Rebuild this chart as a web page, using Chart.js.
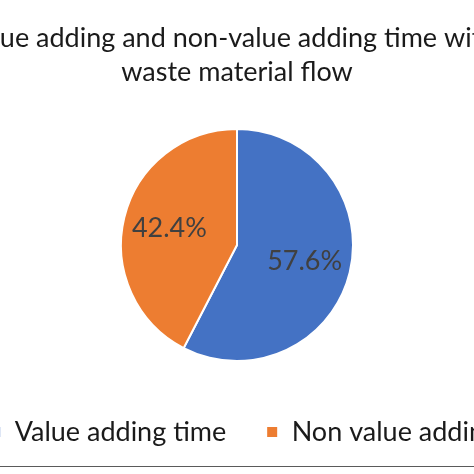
<!DOCTYPE html>
<html><head><meta charset="utf-8">
<script src="https://cdn.jsdelivr.net/npm/chart.js@4/dist/chart.umd.min.js"></script>
<style>
html,body{margin:0;padding:0;width:474px;height:474px;overflow:hidden;background:#fff;position:relative}
#c{position:absolute;top:0}
#rule{position:absolute;left:0;top:466px;width:474px;height:1px;background:#5a5a5a}
</style></head><body>
<canvas id="c"></canvas><div id="rule"></div>
<script>
const titleLines = ['Value adding and non-value adding time with  ', 'waste material flow'];
const categories = ['Value adding time', 'Non value adding time'];
const shares = [57.6, 42.4];
const sliceColors = ['#4472C4', '#ED7D31'];

const FONT = 'Lato';
const FS = 27;
const TITLE_FS = 27;
const BOX = 12;
const PAGE_H = 474;
const CENTER_X = 237;
const BOX1_X = -11, BOX2_X = 266;

// measure legend texts to lay the (clipped) legend out like the reference
const mctx = document.createElement('canvas').getContext('2d');
mctx.font = FS + 'px ' + FONT;
const item1 = BOX + FS / 2 + mctx.measureText(categories[0]).width;
const item2 = BOX + FS / 2 + mctx.measureText(categories[1]).width;
const GAP = BOX2_X - BOX1_X - item1;
const LW = item1 + item2 + 2 * GAP;
const W = Math.round(2 * (LW + BOX1_X - CENTER_X));
const L = CENTER_X - W / 2;

const canvas = document.getElementById('c');
canvas.width = W; canvas.height = PAGE_H;
canvas.style.width = W + 'px'; canvas.style.height = PAGE_H + 'px';
canvas.style.left = L + 'px';

const sliceLabels = {
  id: 'sliceLabels',
  afterDatasetsDraw(chart) {
    const ctx = chart.ctx;
    const meta = chart.getDatasetMeta(0);
    const data = chart.data.datasets[0].data;
    const total = data.reduce((a, b) => a + b, 0);
    ctx.save();
    ctx.font = FS + 'px ' + FONT;
    ctx.fillStyle = '#404040';
    ctx.textAlign = 'center';
    ctx.textBaseline = 'middle';
    meta.data.forEach((arc, i) => {
      const p = arc.getProps(['x', 'y', 'startAngle', 'endAngle', 'outerRadius'], true);
      const mid = (p.startAngle + p.endAngle) / 2;
      const r = p.outerRadius * 0.6;
      ctx.fillText((data[i] / total * 100).toFixed(1) + '%', p.x + Math.cos(mid) * r, p.y + Math.sin(mid) * r);
    });
    ctx.restore();
  }
};

new Chart(canvas, {
  type: 'pie',
  data: {
    labels: categories,
    datasets: [{
      data: shares,
      backgroundColor: sliceColors,
      borderColor: '#ffffff',
      borderWidth: 2,
      radius: 116
    }]
  },
  options: {
    responsive: false,
    animation: false,
    events: [],
    layout: { padding: { top: 0, bottom: 18.5, left: 0, right: 0 } },
    plugins: {
      tooltip: { enabled: false },
      title: {
        display: true,
        text: titleLines,
        color: '#1a1a1a',
        font: { family: FONT, size: TITLE_FS, weight: 'normal', lineHeight: 34 / TITLE_FS },
        padding: { top: 21, bottom: 22.5 }
      },
      legend: {
        display: true,
        position: 'bottom',
        align: 'end',
        labels: {
          boxWidth: BOX,
          boxHeight: BOX,
          padding: GAP,
          color: '#1a1a1a',
          font: { family: FONT, size: FS }
        }
      }
    }
  },
  plugins: [sliceLabels]
});
</script>
</body></html>
